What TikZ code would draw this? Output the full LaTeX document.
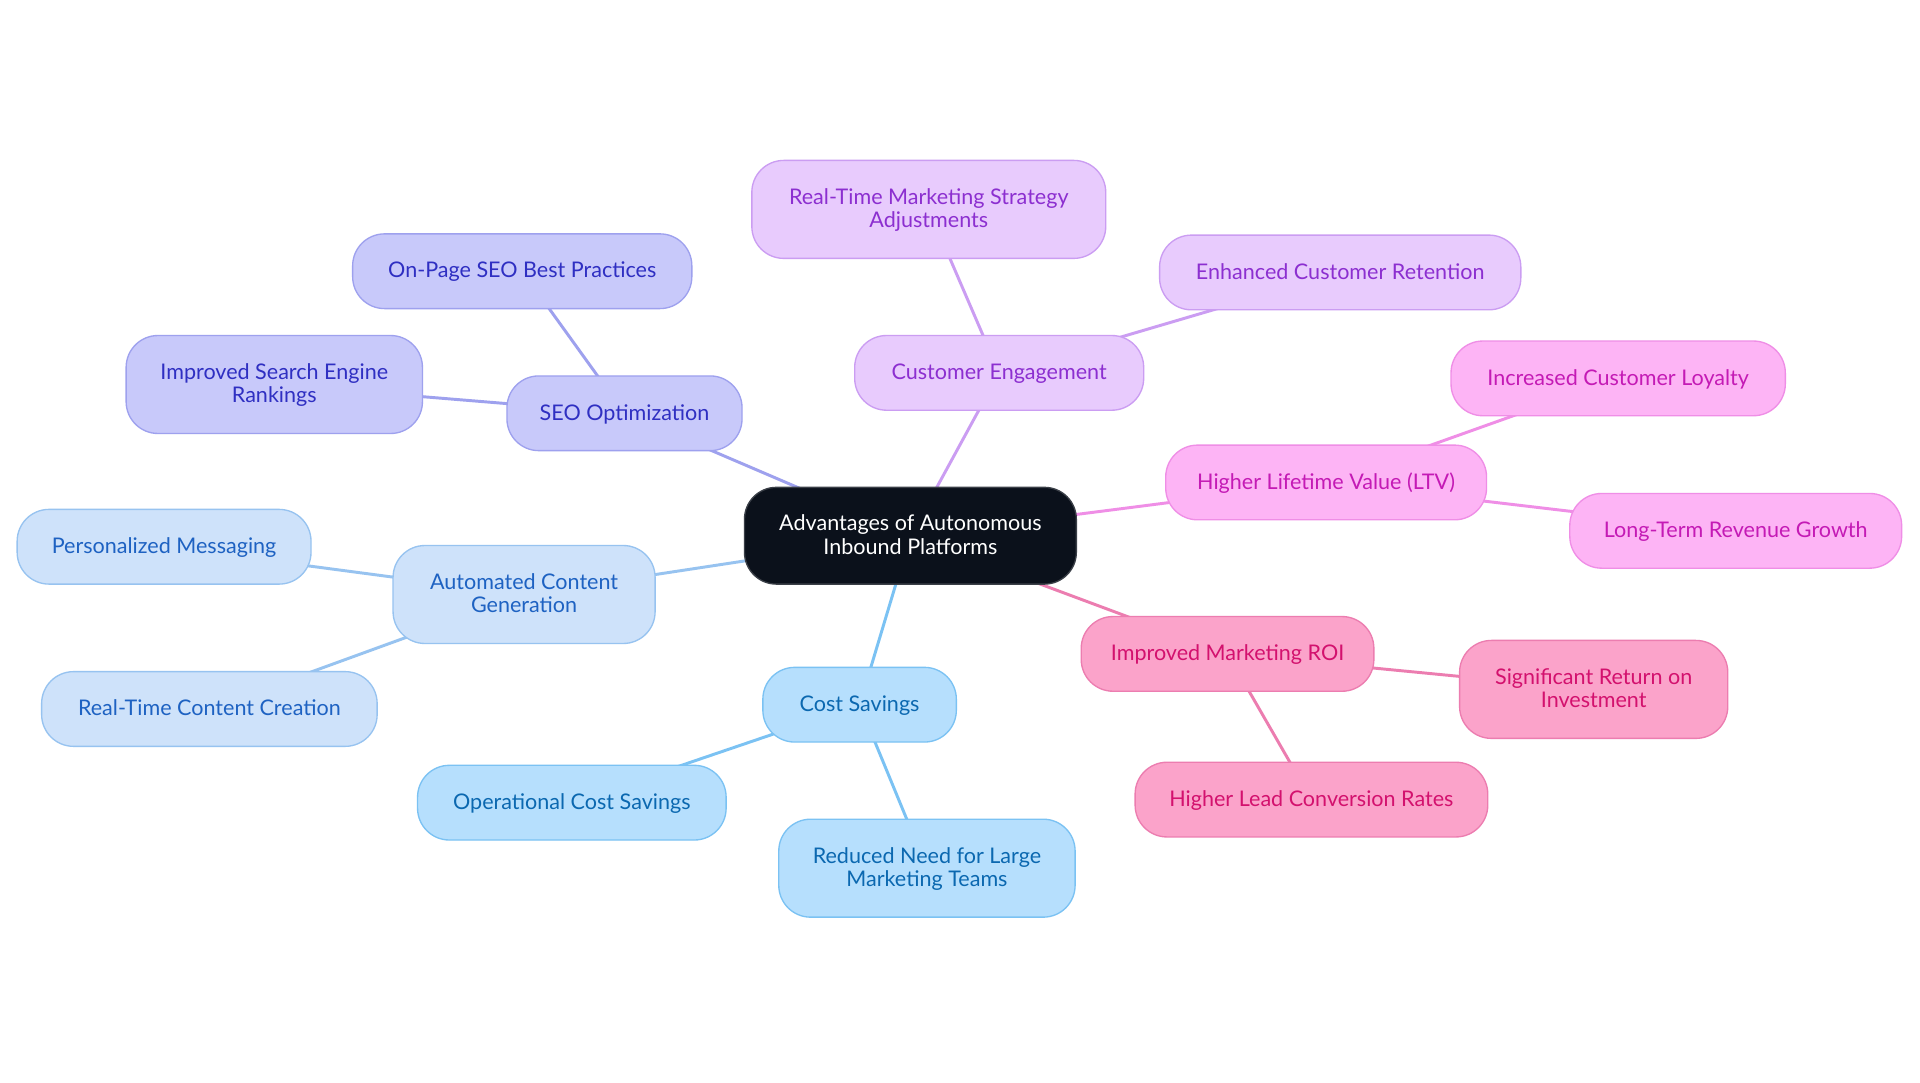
\documentclass[tikz,border=0pt]{standalone}
\usepackage{fontspec}
\setmainfont{Lato}
\usetikzlibrary{backgrounds}
\definecolor{rootFill}{HTML}{0B111B}
\definecolor{rootLine}{HTML}{3A3F47}
\definecolor{seoFill}{HTML}{C8C9FA}
\definecolor{seoLine}{HTML}{9EA1EE}
\definecolor{seoText}{HTML}{2F2FC2}
\definecolor{acgFill}{HTML}{CEE2FA}
\definecolor{acgLine}{HTML}{97C3F0}
\definecolor{acgText}{HTML}{1E62C2}
\definecolor{csFill}{HTML}{B6DFFD}
\definecolor{csLine}{HTML}{7BC2F3}
\definecolor{csText}{HTML}{0B68B0}
\definecolor{ceFill}{HTML}{E8CBFD}
\definecolor{ceLine}{HTML}{CB9DF2}
\definecolor{ceText}{HTML}{8C2FD0}
\definecolor{ltvFill}{HTML}{FDB4F5}
\definecolor{ltvLine}{HTML}{EF8EE6}
\definecolor{ltvText}{HTML}{C41AB5}
\definecolor{roiFill}{HTML}{FBA3CA}
\definecolor{roiLine}{HTML}{EC7DB0}
\definecolor{roiText}{HTML}{D3116E}
\tikzset{
  mm/.style={rounded corners=26pt, inner sep=0pt, align=center,
    font=\fontsize{17.6}{19}\selectfont, text height=14pt, text depth=3pt,
    line width=1.1pt, minimum height=61pt},
  tall/.style={minimum height=80pt, text height=33pt},
  rootbox/.style={mm, tall, fill=rootFill, draw=rootLine, text=white, minimum height=79pt},
  seo/.style={mm, fill=seoFill, draw=seoLine, text=seoText},
  acg/.style={mm, fill=acgFill, draw=acgLine, text=acgText},
  cs/.style={mm, fill=csFill, draw=csLine, text=csText},
  ce/.style={mm, fill=ceFill, draw=ceLine, text=ceText},
  ltv/.style={mm, fill=ltvFill, draw=ltvLine, text=ltvText},
  roi/.style={mm, fill=roiFill, draw=roiLine, text=roiText},
  link/.style={line width=2.4pt},
}
\begin{document}
\begin{tikzpicture}[x=1pt,y=-1pt]
\useasboundingbox (0,0) rectangle (1568,884.4);

\node[rootbox, minimum width=271pt] (root) at (743.5,437.5) {Advantages of Autonomous\\Inbound Platforms};

\node[seo, minimum width=192pt] (seo) at (510,337.5) {SEO Optimization};
\node[seo, minimum width=277pt] (onpage) at (426.5,221.5) {On-Page SEO Best Practices};
\node[seo, tall, minimum width=242pt] (rank) at (224,314) {Improved Search Engine\\Rankings};

\node[acg, tall, minimum width=214pt] (acg) at (428,485.5) {Automated Content\\Generation};
\node[acg, minimum width=240pt] (pers) at (134,446.5) {Personalized Messaging};
\node[acg, minimum width=274pt] (rtcc) at (171,579) {Real-Time Content Creation};

\node[cs, minimum width=158pt] (cs) at (702,575.5) {Cost Savings};
\node[cs, minimum width=252pt] (ocs) at (467,655.5) {Operational Cost Savings};
\node[cs, tall, minimum width=242pt] (rnl) at (757,709) {Reduced Need for Large\\Marketing Teams};

\node[ce, minimum width=236pt] (ce) at (816,304.5) {Customer Engagement};
\node[ce, tall, minimum width=289pt] (rtms) at (758.5,171) {Real-Time Marketing Strategy\\Adjustments};
\node[ce, minimum width=295pt] (ecr) at (1094.5,222.5) {Enhanced Customer Retention};

\node[ltv, minimum width=262pt] (ltv) at (1083,394) {Higher Lifetime Value (LTV)};
\node[ltv, minimum width=273pt] (icl) at (1321.5,309) {Increased Customer Loyalty};
\node[ltv, minimum width=271pt] (ltrg) at (1417.5,433.5) {Long-Term Revenue Growth};

\node[roi, minimum width=239pt] (roi) at (1002.5,534) {Improved Marketing ROI};
\node[roi, tall, minimum width=219pt] (sroi) at (1301.5,563) {Significant Return on\\Investment};
\node[roi, minimum width=288pt] (hlcr) at (1071,653) {Higher Lead Conversion Rates};

\begin{scope}[on background layer]
\fill[white] (0,0) rectangle (1568,884.4);
\draw[link, seoLine] (root.center) -- (seo.center);
\draw[link, seoLine] (seo.center) -- (onpage.center);
\draw[link, seoLine] (seo.center) -- (rank.center);
\draw[link, acgLine] (root.center) -- (acg.center);
\draw[link, acgLine] (acg.center) -- (pers.center);
\draw[link, acgLine] (acg.center) -- (rtcc.center);
\draw[link, csLine] (root.center) -- (cs.center);
\draw[link, csLine] (cs.center) -- (ocs.center);
\draw[link, csLine] (cs.center) -- (rnl.center);
\draw[link, ceLine] (root.center) -- (ce.center);
\draw[link, ceLine] (ce.center) -- (rtms.center);
\draw[link, ceLine] (ce.center) -- (ecr.center);
\draw[link, ltvLine] (root.center) -- (ltv.center);
\draw[link, ltvLine] (ltv.center) -- (icl.center);
\draw[link, ltvLine] (ltv.center) -- (ltrg.center);
\draw[link, roiLine] (root.center) -- (roi.center);
\draw[link, roiLine] (roi.center) -- (sroi.center);
\draw[link, roiLine] (roi.center) -- (hlcr.center);
\end{scope}
\end{tikzpicture}
\end{document}
